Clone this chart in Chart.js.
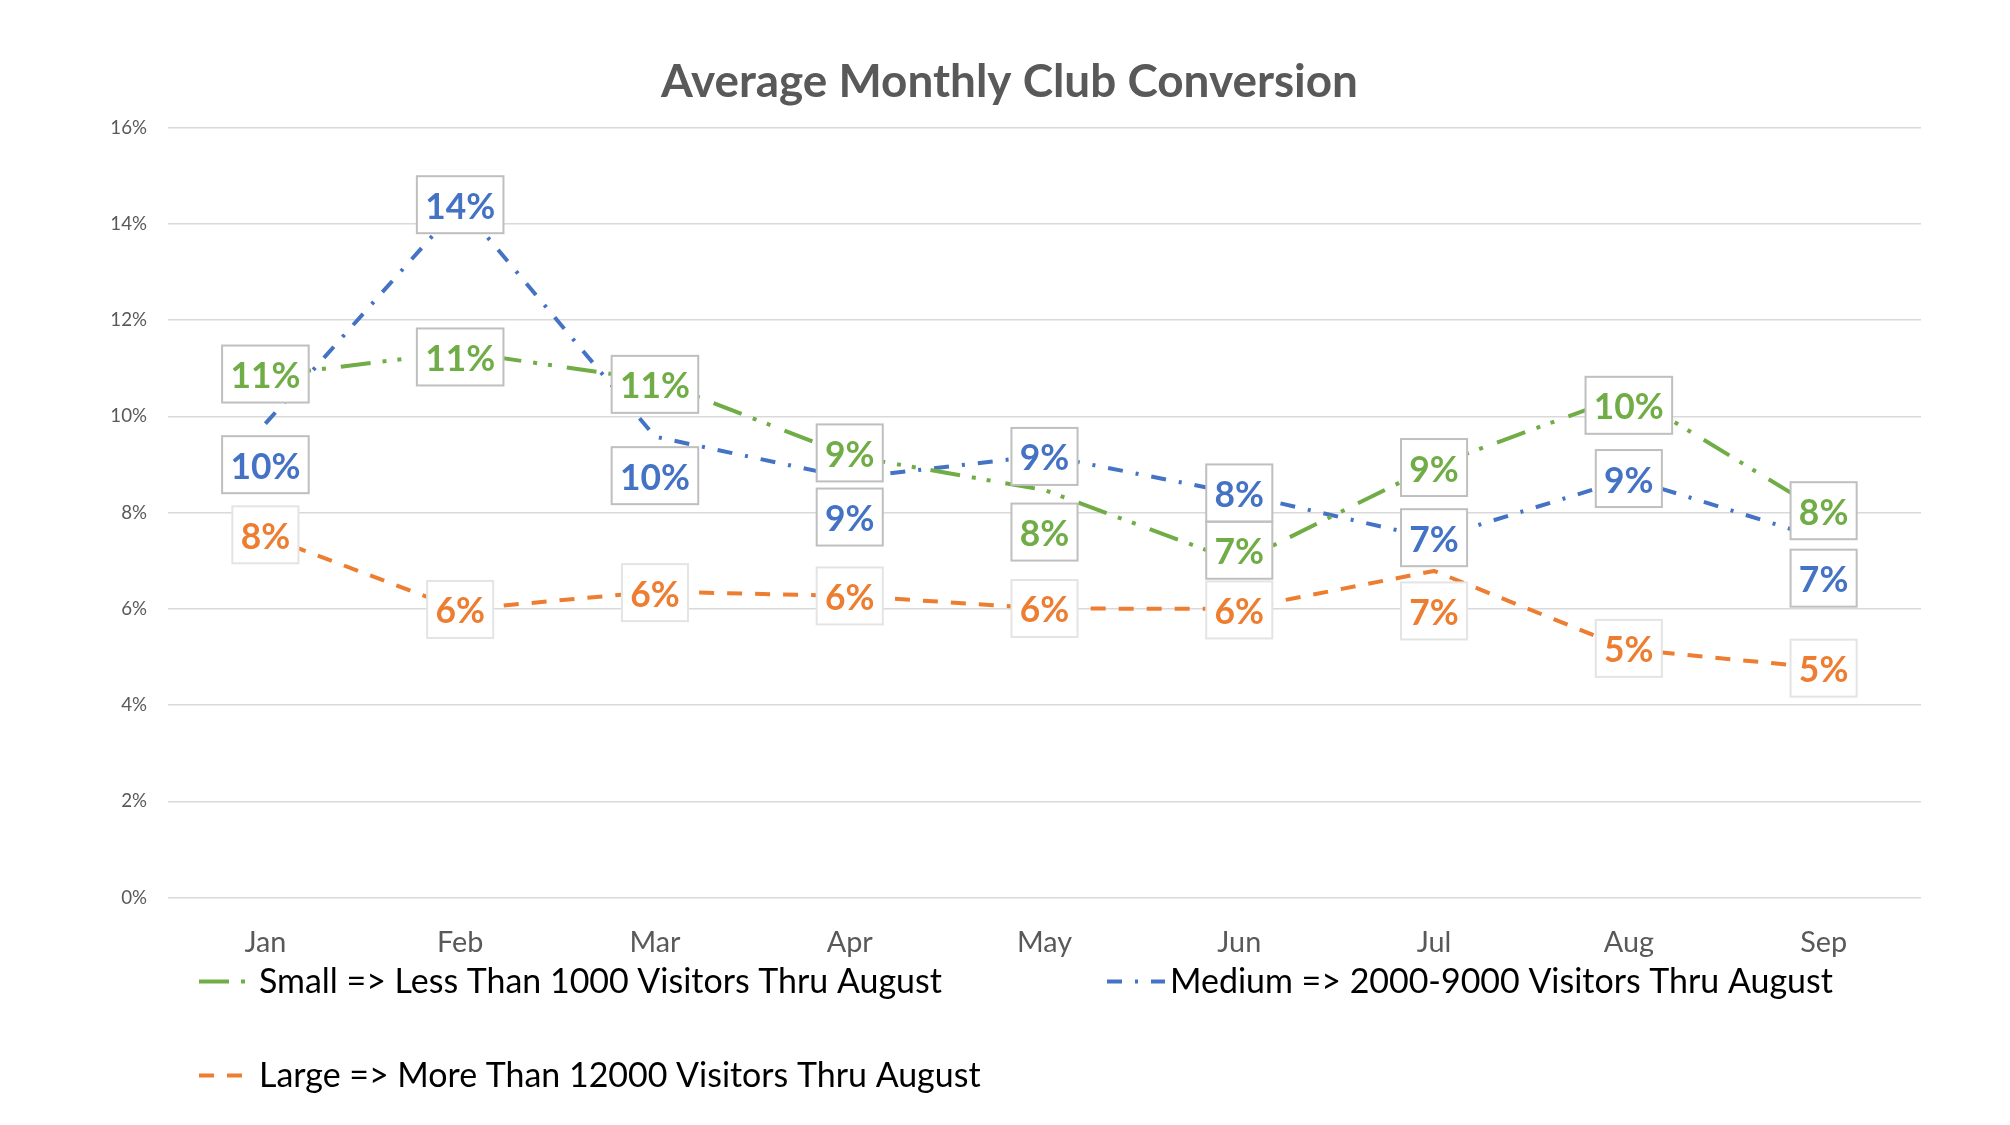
<!DOCTYPE html>
<html>
<head>
<meta charset="utf-8">
<script src="https://cdn.jsdelivr.net/npm/chart.js@4.4.1/dist/chart.umd.min.js"></script>
<style>
  html, body { margin: 0; padding: 0; background: #ffffff; }
  canvas { display: block; }
</style>
</head>
<body>
<canvas id="c" width="2010" height="1125"></canvas>
<script>
// ---------------- data ----------------
const months = ['Jan', 'Feb', 'Mar', 'Apr', 'May', 'Jun', 'Jul', 'Aug', 'Sep'];
const smallClub  = [10.84, 11.34, 10.75, 9.18, 8.47, 6.97, 8.98, 10.46, 8.00];
const mediumClub = [9.85, 14.40, 9.58, 8.72, 9.19, 8.39, 7.46, 8.71, 7.45];
const largeClub  = [7.52, 5.99, 6.36, 6.27, 6.01, 6.00, 6.79, 5.16, 4.77];
const seriesNames = [
  'Small => Less Than 1000 Visitors Thru August',
  'Medium => 2000-9000 Visitors Thru August',
  'Large => More Than 12000 Visitors Thru August'
];
const yTickLabels = ['0%', '2%', '4%', '6%', '8%', '10%', '12%', '14%', '16%'];
const chartTitle = 'Average Monthly Club Conversion';

// ---------------- style ----------------
const FAMILY = 'Lato';
const COLORS = ['#70AD47', '#4472C4', '#ED7D31'];
const DASHES = [[30, 12, 4, 11, 4, 15], [15, 13, 3, 13], [15, 13]];
const LINE_W = 4;
const AREA = { left: 168, right: 1921, top: 127.7, bottom: 897.7 };
const TITLE_SPAN = { left: 19, right: 2000 };
// vertical shift (px) of each value box relative to its point
const LABEL_SHIFT = [
  [-2, 5, 4, -3, 42, -12, 2, 11, -2],
  [41, 0, 39, 39, 1, -1, -1, 0, 39],
  [-1, 0, 1, 0, 0, 1, 40, -1, 0]
];
const LABEL_BORDER = ['#BFBFBF', '#BFBFBF', '#E4E4E4'];
const LABEL_PAD_X = 8.3;
const LABEL_BOX_H = 57;
const LEGEND_SLOTS = [
  { x: 199,  sw: 46, tx: 259,  cy: 980.5 },
  { x: 1107, sw: 58, tx: 1170, cy: 980.5 },
  { x: 199,  sw: 43, tx: 259,  cy: 1074.5 }
];

const mctx = document.createElement('canvas').getContext('2d');
function fitSize(text, weight, target) {
  mctx.font = weight + ' 100px ' + FAMILY;
  return 100 * target / mctx.measureText(text).width;
}
const titleSize  = fitSize(chartTitle, 'bold', 697);
const labelSize  = fitSize('11%', 'bold', 70);
const yTickSize  = fitSize('16%', 'normal', 36.7);
const xTickSize  = (fitSize('Jan', 'normal', 42.7) + fitSize('Sep', 'normal', 46)) / 2;
const legendSize = fitSize(seriesNames[0], 'normal', 683);

const titlePadTop = 83.5 - 0.63 * titleSize;
const titlePadBottom = AREA.top - titlePadTop - 1.2 * titleSize;
const xPad = 943.3 - AREA.bottom - 0.63 * xTickSize;

const titleSpan = {
  id: 'titleSpan',
  afterLayout(chart) {
    if (chart.titleBlock) {
      chart.titleBlock.left = TITLE_SPAN.left;
      chart.titleBlock.right = TITLE_SPAN.right;
      chart.titleBlock.width = TITLE_SPAN.right - TITLE_SPAN.left;
    }
  }
};

const boxLabels = {
  id: 'boxLabels',
  afterDatasetsDraw(chart) {
    const ctx = chart.ctx;
    ctx.save();
    ctx.font = 'bold ' + labelSize + 'px ' + FAMILY;
    const mm = ctx.measureText('0%');
    const asc = mm.actualBoundingBoxAscent, desc = mm.actualBoundingBoxDescent;
    chart.data.datasets.forEach((ds, i) => {
      const meta = chart.getDatasetMeta(i);
      meta.data.forEach((pt, j) => {
        const txt = Math.round(ds.data[j]) + '%';
        const w = ctx.measureText(txt).width + 2 * LABEL_PAD_X;
        const h = LABEL_BOX_H;
        const cx = pt.x, cy = pt.y + LABEL_SHIFT[i][j];
        ctx.setLineDash([]);
        ctx.fillStyle = '#ffffff';
        ctx.fillRect(cx - w / 2, cy - h / 2, w, h);
        ctx.strokeStyle = LABEL_BORDER[i];
        ctx.lineWidth = 2;
        ctx.strokeRect(cx - w / 2, cy - h / 2, w, h);
        ctx.fillStyle = ds.borderColor;
        ctx.textAlign = 'center';
        ctx.textBaseline = 'alphabetic';
        ctx.fillText(txt, cx, cy + (asc - desc) / 2 + 1);
      });
    });
    ctx.restore();
  }
};

const lineLegend = {
  id: 'lineLegend',
  afterDraw(chart) {
    const ctx = chart.ctx;
    ctx.save();
    ctx.font = legendSize + 'px ' + FAMILY;
    const capH = ctx.measureText('S').actualBoundingBoxAscent;
    chart.data.datasets.forEach((ds, i) => {
      const s = LEGEND_SLOTS[i];
      ctx.strokeStyle = ds.borderColor;
      ctx.lineWidth = LINE_W;
      ctx.lineCap = 'butt';
      ctx.setLineDash(ds.borderDash);
      ctx.beginPath();
      ctx.moveTo(s.x, s.cy + 1);
      ctx.lineTo(s.x + s.sw, s.cy + 1);
      ctx.stroke();
      ctx.setLineDash([]);
      ctx.fillStyle = '#000000';
      ctx.textAlign = 'left';
      ctx.textBaseline = 'alphabetic';
      ctx.fillText(ds.label, s.tx, s.cy + capH / 2);
    });
    ctx.restore();
  }
};

function makeSet(i, values) {
  return {
    label: seriesNames[i],
    data: values,
    borderColor: COLORS[i],
    backgroundColor: COLORS[i],
    borderDash: DASHES[i],
    borderWidth: LINE_W,
    borderCapStyle: 'butt',
    borderJoinStyle: 'round',
    pointRadius: 0,
    pointHoverRadius: 0,
    tension: 0,
    fill: false
  };
}

new Chart(document.getElementById('c').getContext('2d'), {
  type: 'line',
  data: {
    labels: months,
    datasets: [makeSet(0, smallClub), makeSet(1, mediumClub), makeSet(2, largeClub)]
  },
  options: {
    responsive: false,
    animation: false,
    layout: { padding: { left: 0, right: 2010 - AREA.right, top: 0, bottom: 0 } },
    plugins: {
      legend: { display: false },
      tooltip: { enabled: false },
      title: {
        display: true,
        text: chartTitle,
        color: '#595959',
        font: { family: FAMILY, weight: 'bold', size: titleSize, lineHeight: 1.2 },
        padding: { top: titlePadTop, bottom: titlePadBottom }
      }
    },
    scales: {
      x: {
        offset: true,
        grid: { display: false, drawTicks: false },
        border: { display: false },
        ticks: {
          color: '#595959',
          font: { family: FAMILY, size: xTickSize, lineHeight: 1.2 },
          padding: xPad,
          maxRotation: 0,
          autoSkip: false
        },
        afterFit(s) { s.height = 1125 - AREA.bottom; }
      },
      y: {
        min: 0,
        max: 16,
        grid: { color: '#D9D9D9', lineWidth: 1.5, drawTicks: false },
        border: { display: false },
        ticks: {
          stepSize: 2,
          color: '#595959',
          font: { family: FAMILY, size: yTickSize },
          padding: 21,
          callback: (v) => yTickLabels[Math.round(v / 2)]
        },
        afterFit(s) { s.width = AREA.left; }
      }
    }
  },
  plugins: [titleSpan, boxLabels, lineLegend]
});
</script>
</body>
</html>
